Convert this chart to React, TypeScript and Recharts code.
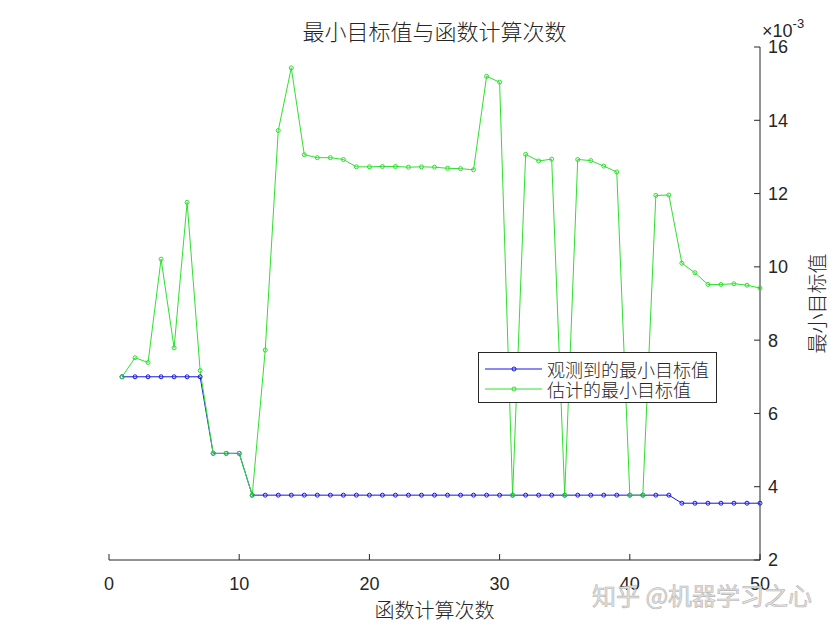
import { LineChart, Line, XAxis, YAxis, Legend } from "recharts"

// function evaluation index
const evaluations = [
  1, 2, 3, 4, 5, 6, 7, 8, 9, 10,
  11, 12, 13, 14, 15, 16, 17, 18, 19, 20,
  21, 22, 23, 24, 25, 26, 27, 28, 29, 30,
  31, 32, 33, 34, 35, 36, 37, 38, 39, 40,
  41, 42, 43, 44, 45, 46, 47, 48, 49, 50,
]

// values in units of 1e-3
const observedMin = [
  7.0, 7.0, 7.0, 7.0, 7.0, 7.0, 7.0, 4.91, 4.91, 4.91,
  3.77, 3.77, 3.77, 3.77, 3.77, 3.77, 3.77, 3.77, 3.77, 3.77,
  3.77, 3.77, 3.77, 3.77, 3.77, 3.77, 3.77, 3.77, 3.77, 3.77,
  3.77, 3.77, 3.77, 3.77, 3.77, 3.77, 3.77, 3.77, 3.77, 3.77,
  3.77, 3.77, 3.77, 3.55, 3.55, 3.55, 3.55, 3.55, 3.55, 3.55,
]

const estimatedMin = [
  7.0, 7.52, 7.39, 10.21, 7.79, 11.76, 7.17, 4.91, 4.91, 4.91,
  3.77, 7.73, 13.72, 15.43, 13.06, 12.98, 12.98, 12.93, 12.73, 12.73,
  12.74, 12.74, 12.72, 12.73, 12.72, 12.69, 12.68, 12.65, 15.2, 15.04,
  3.77, 13.07, 12.89, 12.94, 3.77, 12.93, 12.9, 12.75, 12.59, 3.77,
  3.77, 11.95, 11.96, 10.1, 9.84, 9.52, 9.52, 9.54, 9.5, 9.42,
]

const xTicks = [0, 10, 20, 30, 40, 50]
const yTicks = [2, 4, 6, 8, 10, 12, 14, 16]

const SERIES = [
  { key: "observed", name: "观测到的最小目标值", color: "#1414e6" },
  { key: "estimated", name: "估计的最小目标值", color: "#2ee02e" },
]

const AXIS = "#262626"
const CJK = '"Noto Sans CJK SC", sans-serif'
const NUM = '"Liberation Sans", Arial, sans-serif'

const data = evaluations.map((n, i) => ({
  n,
  observed: observedMin[i],
  estimated: estimatedMin[i],
}))

function LegendBox() {
  return (
    <div
      style={{
        width: 239,
        height: 51,
        boxSizing: "border-box",
        border: `1px solid ${AXIS}`,
        background: "#fff",
        paddingTop: 6,
        fontFamily: CJK,
        fontWeight: 300,
        fontSize: 18,
        color: AXIS,
      }}
    >
      {SERIES.map((s) => (
        <div key={s.key} style={{ display: "flex", alignItems: "center", height: 20 }}>
          <svg width={68} height={20} style={{ flex: "none" }}>
            <line x1={6} y1={10} x2={63} y2={10} stroke={s.color} strokeWidth={1} />
            <circle cx={35} cy={10} r={2} stroke={s.color} fill="none" strokeWidth={1} />
          </svg>
          <span style={{ lineHeight: "20px", whiteSpace: "nowrap" }}>{s.name}</span>
        </div>
      ))}
    </div>
  )
}

export default function App() {
  return (
    <div style={{ position: "absolute", left: 0, top: 0, width: 840, height: 630, background: "#fff" }}>
      <LineChart
        width={840}
        height={630}
        data={data}
        margin={{ top: 47, right: 0, bottom: 0, left: 109 }}
      >
        <XAxis
          dataKey="n"
          type="number"
          domain={[0, 50]}
          ticks={xTicks}
          height={70}
          stroke={AXIS}
          tickSize={-6}
          tickMargin={23}
          tick={{ fill: AXIS, fontSize: 18, fontFamily: NUM }}
          label={{
            value: "函数计算次数",
            position: "insideBottom",
            offset: 12,
            style: { fill: AXIS, fontSize: 20, fontFamily: CJK, fontWeight: 300 },
          }}
        />
        <YAxis
          orientation="right"
          type="number"
          domain={[2, 16]}
          ticks={yTicks}
          width={80}
          stroke={AXIS}
          tickSize={-6}
          tickMargin={14}
          tick={{ fill: AXIS, fontSize: 18, fontFamily: NUM }}
        />
        <Legend
          layout="horizontal"
          verticalAlign="middle"
          align="center"
          wrapperStyle={{ left: 478, top: 352, width: 239, height: 51 }}
          content={() => <LegendBox />}
        />
        {SERIES.map((s) => (
          <Line
            key={s.key}
            type="linear"
            dataKey={s.key}
            name={s.name}
            stroke={s.color}
            strokeWidth={1}
            dot={{ r: 2, stroke: s.color, strokeWidth: 1, fill: "none" }}
            isAnimationActive={false}
          />
        ))}
      </LineChart>
      <svg
        width={840}
        height={630}
        style={{ position: "absolute", left: 0, top: 0, pointerEvents: "none" }}
      >
        <text x={434.5} y={40} textAnchor="middle" fill={AXIS} fontSize={22} fontFamily={CJK} fontWeight={300}>
          最小目标值与函数计算次数
        </text>
        <text x={762} y={37} fill={AXIS} style={{ fontSize: 18, fontFamily: NUM }}>
          <tspan style={{ fontSize: 18 }}>×10</tspan>
          <tspan dy={-9} style={{ fontSize: 13 }}>-3</tspan>
        </text>
        <text
          x={816}
          y={303.5}
          textAnchor="middle"
          dominantBaseline="central"
          transform="rotate(-90 816 303.5)"
          fill={AXIS}
          fontSize={20}
          fontFamily={CJK}
          fontWeight={300}
        >
          最小目标值
        </text>
        <text
          x={592}
          y={605}
          fill="#e4e4e4"
          stroke="#b4b4b4"
          strokeWidth={0.6}
          fontSize={24}
          fontFamily={CJK}
        >
          知乎 @机器学习之心
        </text>
      </svg>
    </div>
  )
}
